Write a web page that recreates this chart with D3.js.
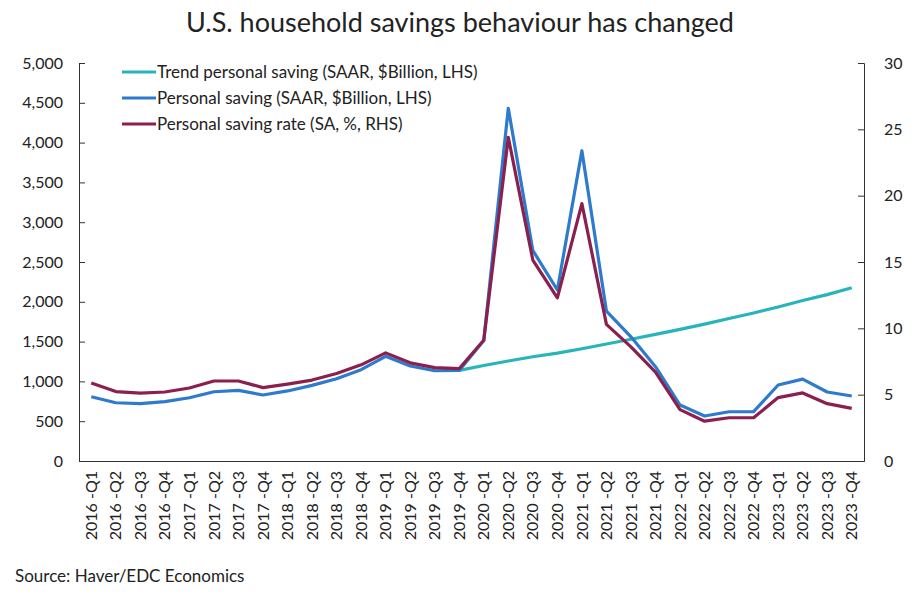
<!DOCTYPE html>
<html>
<head>
    <meta charset="UTF-8" />
    <script src="https://d3js.org/d3.v7.min.js"></script>
    <style>
        body { margin: 0; background: white; }
        text { font-family: Lato, "Open Sans", sans-serif; fill: #222; }
        .axis path, .axis line { stroke: #333; }
        .axis text { font-size: 16px; }
    </style>
</head>
<body>
    <svg id="svg" width="920" height="596"></svg>

    <script>
        // quarters
        const quarters = [];
        for (let y = 2016; y <= 2023; y++) {
            for (let q = 1; q <= 4; q++) quarters.push(y + " -Q" + q);
        }

        // Personal saving, SAAR $bn (LHS)
        const personalSaving = [808, 732, 720, 745, 795, 870, 888, 829,
                                880, 950, 1034, 1147, 1315, 1193, 1134, 1138,
                                1515, 4431, 2645, 2148, 3898, 1883, 1560, 1185,
                                703, 565, 619, 620, 955, 1028, 867, 816];

        // Trend personal saving, SAAR $bn (LHS) - starts 2019-Q4
        const trendSaving = [null, null, null, null, null, null, null, null,
                             null, null, null, null, null, null, null, 1138,
                             1200, 1256, 1310, 1355, 1410, 1470, 1530, 1590,
                             1654, 1720, 1790, 1860, 1935, 2016, 2090, 2176];

        // Personal saving rate, SA % (RHS)
        const savingRate = [5.88, 5.23, 5.12, 5.2, 5.5, 6.03, 6.03, 5.53,
                            5.8, 6.1, 6.6, 7.25, 8.15, 7.4, 7.04, 6.97,
                            9.1, 24.4, 15.15, 12.3, 19.4, 10.3, 8.6, 6.7,
                            3.87, 3.0, 3.26, 3.26, 4.78, 5.13, 4.32, 3.97];

        const leftTicks = [0, 500, 1000, 1500, 2000, 2500, 3000, 3500, 4000, 4500, 5000];
        const rightTicks = [0, 5, 10, 15, 20, 25, 30];

        const seriesNames = ["Trend personal saving (SAAR, $Billion, LHS)",
                             "Personal saving (SAAR, $Billion, LHS)",
                             "Personal saving rate (SA, %, RHS)"];
        const colors = ["#29b3bb", "#2e7acc", "#8b1f4e"];

        const svg = d3.select("svg#svg");
        const margin = {top: 63, right: 56, bottom: 135, left: 79};
        const width = 920, height = 596;
        const chartWidth = width - margin.left - margin.right;
        const chartHeight = height - margin.top - margin.bottom;

        const xScale = d3.scaleBand().domain(quarters).range([0, chartWidth]).padding(0);
        const yLeft = d3.scaleLinear().domain([0, 5000]).range([chartHeight, 0]);
        const yRight = d3.scaleLinear().domain([0, 30]).range([chartHeight, 0]);

        const chart = svg.append("g")
            .attr("transform", "translate(" + margin.left + "," + margin.top + ")");

        // title
        svg.append("text")
            .attr("x", 460).attr("y", 32)
            .attr("text-anchor", "middle")
            .style("font-size", "27px")
            .text("U.S. household savings behaviour has changed");

        // axes
        chart.append("g").attr("class", "axis")
            .call(d3.axisLeft(yLeft).tickValues(leftTicks).tickSize(-6).tickPadding(16)
                .tickFormat(d3.format(",")));

        chart.append("g").attr("class", "axis")
            .attr("transform", "translate(" + chartWidth + ",0)")
            .call(d3.axisRight(yRight).tickValues(rightTicks).tickSize(-6).tickPadding(20));

        const xAxis = chart.append("g").attr("class", "axis")
            .attr("transform", "translate(0," + chartHeight + ")")
            .call(d3.axisBottom(xScale).tickSize(0).tickPadding(0));
        xAxis.selectAll("text")
            .attr("transform", "rotate(-90)")
            .attr("x", -10).attr("y", 0).attr("dy", "0.35em")
            .style("text-anchor", "end");

        const cx = d => xScale(d) + xScale.bandwidth() / 2;

        const lineLeft = d3.line()
            .defined(d => d[1] != null)
            .x(d => cx(d[0])).y(d => yLeft(d[1]));
        const lineRight = d3.line()
            .x(d => cx(d[0])).y(d => yRight(d[1]));

        chart.append("path")
            .datum(quarters.map((q, i) => [q, trendSaving[i]]))
            .attr("d", lineLeft)
            .attr("fill", "none").attr("stroke", colors[0]).attr("stroke-width", 3.2)
            .attr("stroke-linejoin", "round");

        chart.append("path")
            .datum(quarters.map((q, i) => [q, personalSaving[i]]))
            .attr("d", lineLeft)
            .attr("fill", "none").attr("stroke", colors[1]).attr("stroke-width", 3.2)
            .attr("stroke-linejoin", "round");

        chart.append("path")
            .datum(quarters.map((q, i) => [q, savingRate[i]]))
            .attr("d", lineRight)
            .attr("fill", "none").attr("stroke", colors[2]).attr("stroke-width", 3.2)
            .attr("stroke-linejoin", "round");

        // legend
        const legend = svg.append("g").attr("transform", "translate(122,72)");
        seriesNames.forEach((name, i) => {
            const row = legend.append("g").attr("transform", "translate(0," + (i * 26) + ")");
            row.append("line").attr("x1", 0).attr("x2", 34).attr("y1", 0).attr("y2", 0)
                .attr("stroke", colors[i]).attr("stroke-width", 3.2);
            row.append("text").attr("x", 35).attr("y", 0).attr("dy", "0.35em")
                .style("font-size", "17px").text(name);
        });

        // source
        svg.append("text")
            .attr("x", 15).attr("y", 582)
            .style("font-size", "17px")
            .text("Source: Haver/EDC Economics");
    </script>
</body>
</html>
